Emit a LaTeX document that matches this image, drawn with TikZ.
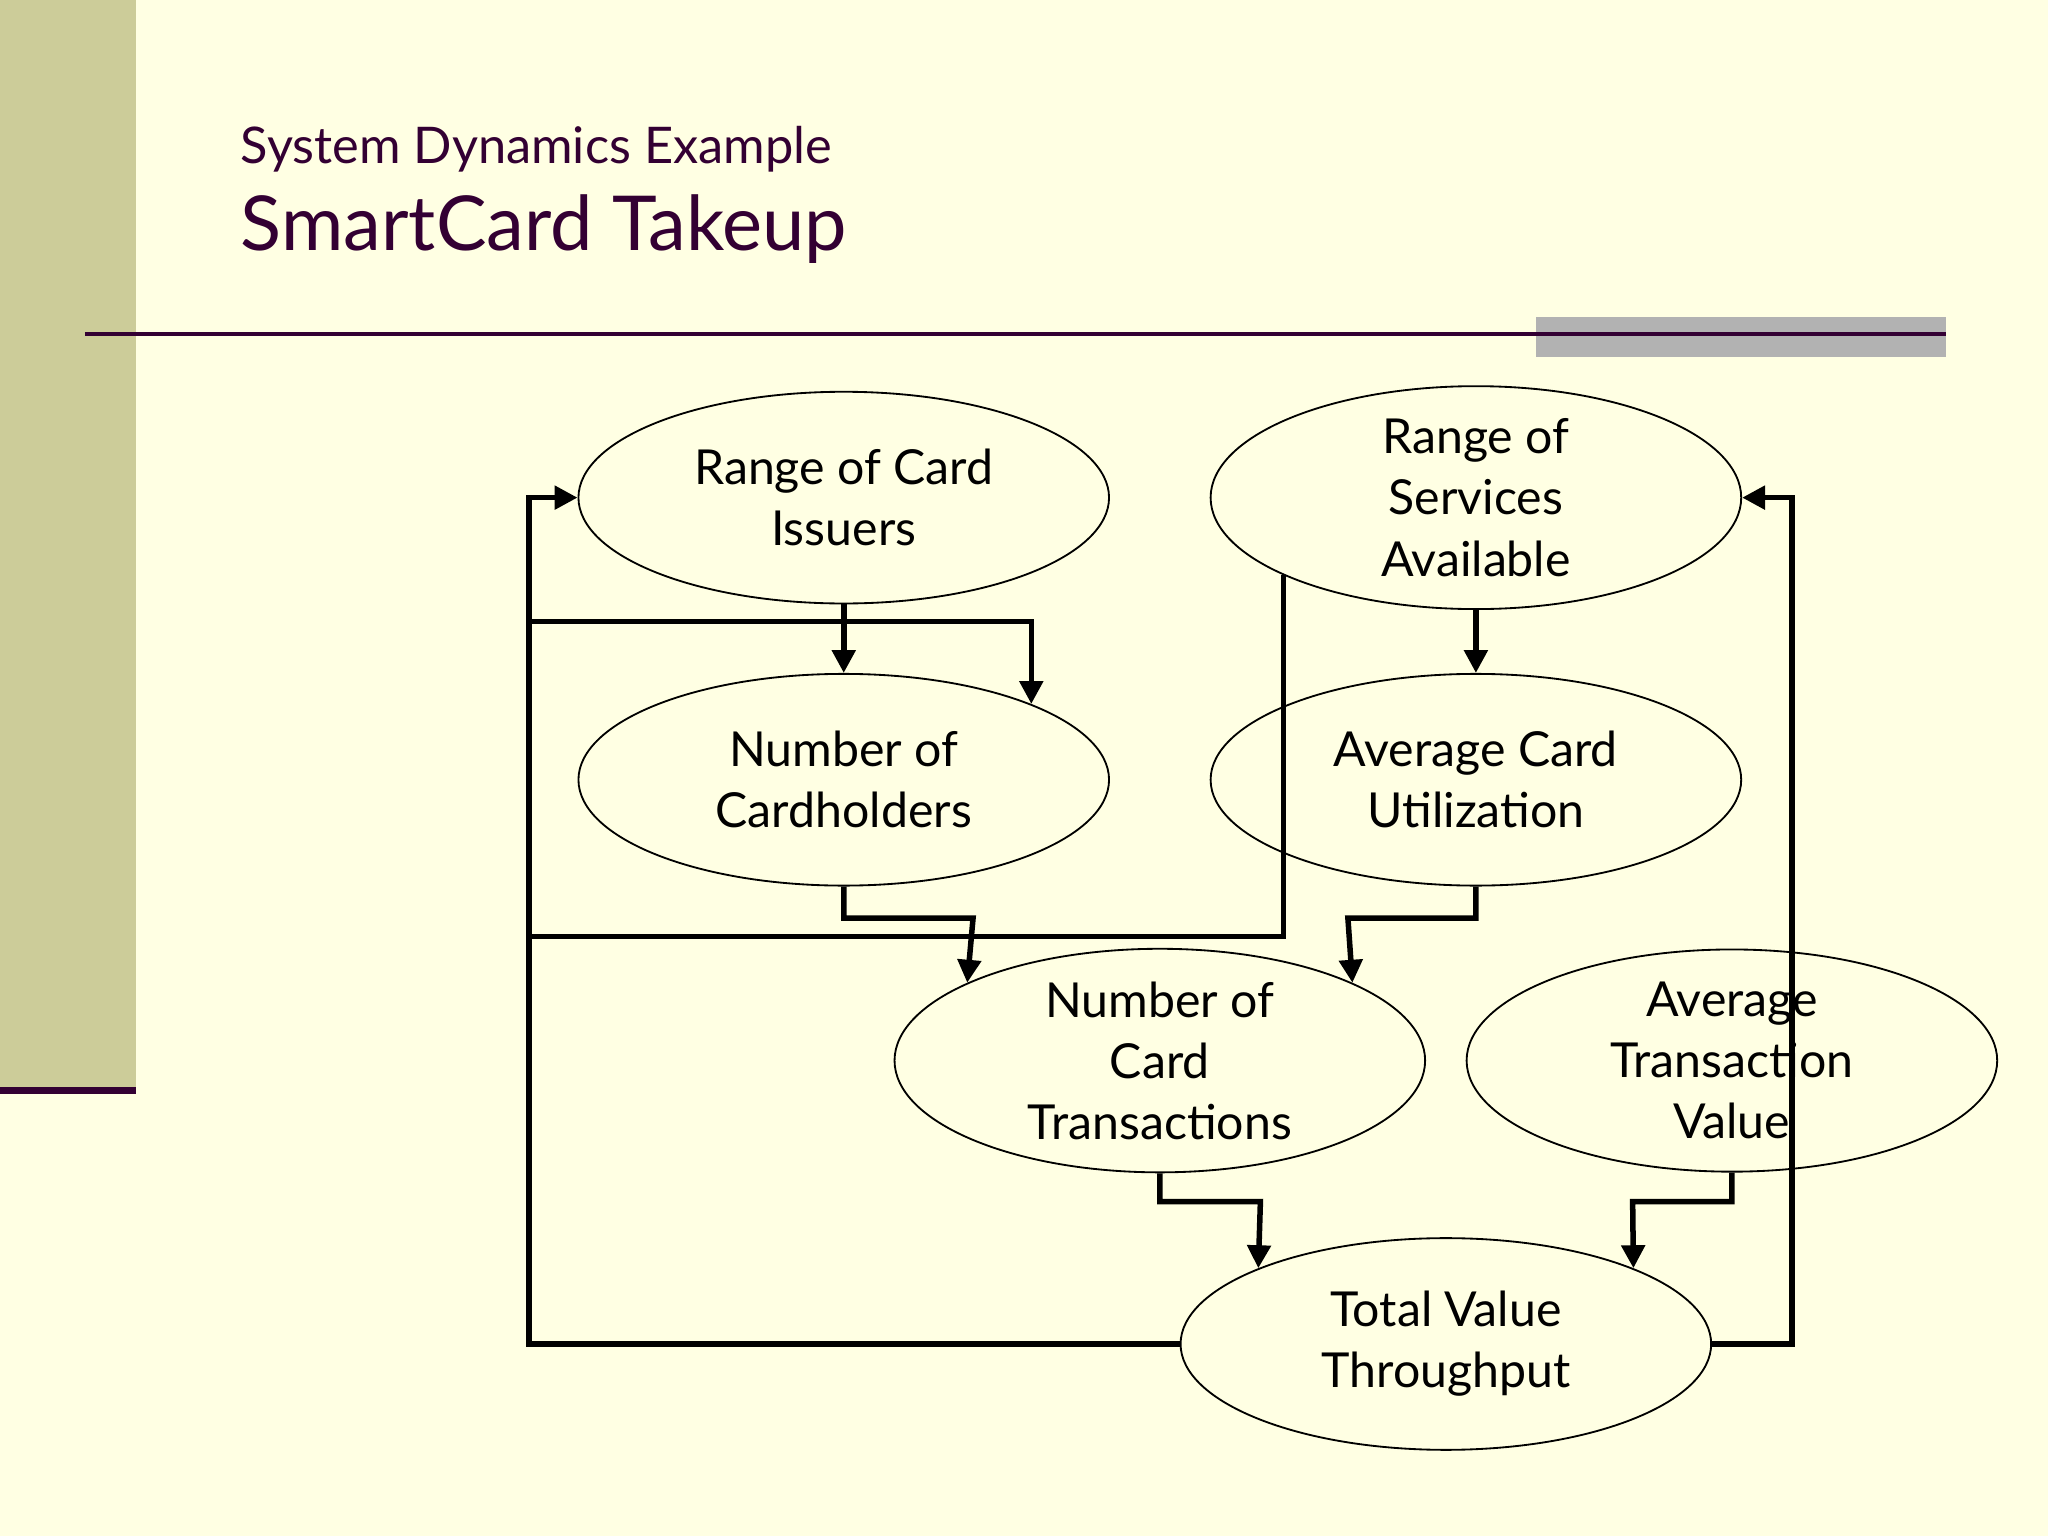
\documentclass[tikz,border=0pt]{standalone}
\usepackage{fontspec}
\setmainfont{Lato}
\usetikzlibrary{shapes.geometric,arrows.meta}
\definecolor{paper}{HTML}{FFFFE3}
\definecolor{olive}{HTML}{CCCC99}
\definecolor{plum}{HTML}{330033}
\definecolor{bargray}{HTML}{B2B2B2}
\begin{document}
\begin{tikzpicture}[x=0.01cm,y=-0.01cm,font=\fontsize{10.5}{13.3}\selectfont]
      \tikzstyle{var node}=[ellipse,draw,thin,minimum width=4.06cm,minimum height=1.62cm,align=center,inner sep=0]
      \tikzstyle{link}=[draw,line width=1.2pt]
      \tikzstyle{arrow}=[link,-{Triangle[length=5pt,width=5pt]}]
      \useasboundingbox (0,0) rectangle (1568,1176);
      \fill[paper] (0,0) rectangle (1568,1176);
      \fill[olive] (0,0) rectangle (104,835);
      \draw[plum,line width=1.5pt] (0,835) -- (104,835);
      \fill[bargray] (1176,243) rectangle (1490,273);
      \draw[plum,line width=0.9pt] (65,256) -- (1490,256);
      \node[anchor=base west,text=plum,font=\fontsize{11}{13}\selectfont] (sub) at (172,125) {System Dynamics Example};
      \node[anchor=base west,text=plum,font=\fontsize{16.5}{19}\selectfont] (title) at (172,192) {SmartCard Takeup};

      \node(issuers)[var node] at (646,381) {Range of Card\\Issuers};
      \node(services)[var node] at (1130,381) {Range of\\Services\\Available};
      \node(holders)[var node] at (646,597) {Number of\\Cardholders};
      \node(util)[var node] at (1130,597) {Average Card\\Utilization};
      \node(trans)[var node] at (888,812) {Number of\\Card\\Transactions};
      \node(avgval)[var node] at (1326,812) {Average\\Transaction\\Value};
      \node(total)[var node] at (1107,1029) {Total Value\\Throughput};

      \coordinate (trunk) at (405,1029);
      \coordinate (right) at (1372,1029);

      \draw[arrow] (issuers.south) -- (holders.north);
      \draw[arrow] (services.south) -- (util.north);
      \draw[arrow] (total.west) -- (trunk) |- (issuers.west);
      \draw[arrow] (trunk |- 0,476) -| (holders.22);
      \draw[link] (services.202) |- (trunk |- 0,717);
      \draw[arrow] (holders.south) |- (745,703) -- (trans.158);
      \draw[arrow] (util.south) |- (1032,703) -- (trans.22);
      \draw[arrow] (trans.south) |- (965,920) -- (total.158);
      \draw[arrow] (avgval.south) |- (1250,920) -- (total.22);
      \draw[arrow] (total.east) -- (right) |- (services.east);
\end{tikzpicture}
\end{document}
